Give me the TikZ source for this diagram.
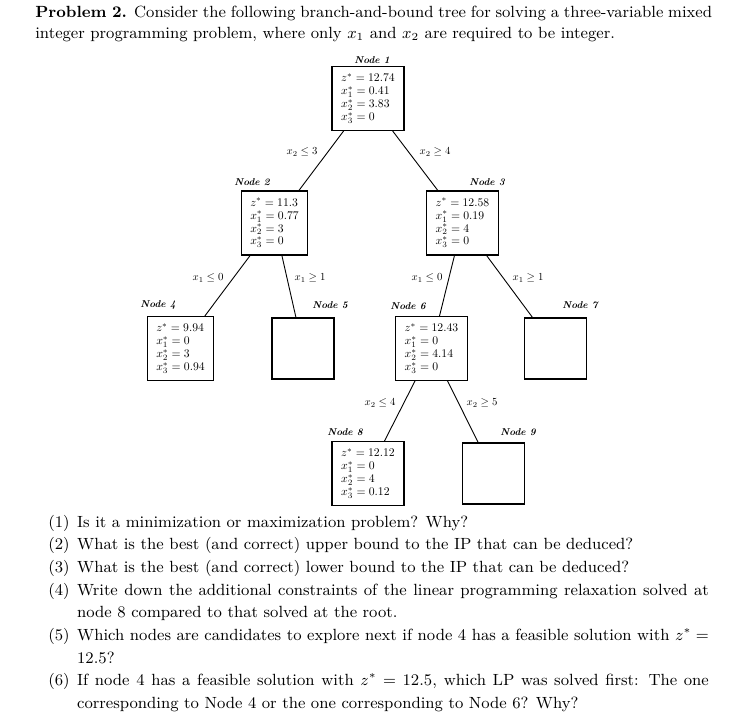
\documentclass[tikz,border=0pt]{standalone}
\usepackage{fix-cm}
\usepackage{fontspec}
\usepackage{amsmath,amssymb}
\usepackage{graphicx}
\usepackage{tikz}

\newcommand{\qitem}[1]{\par\hangindent=16pt\hangafter=1\makebox[16pt][l]{#1}}
\newcommand{\lpvals}[4]{\scalebox{0.65}{\renewcommand{\arraystretch}{0.92}%
\begin{tabular}{@{}l@{}}$z^*=#1$\\$x_1^*=#2$\\$x_2^*=#3$\\$x_3^*=#4$\end{tabular}}}

\begin{document}
\begin{tikzpicture}[x=0.5556pt,y=-0.5556pt,
  bb/.style={draw,line width=0.8pt,inner xsep=5pt,minimum height=34pt},
  empty/.style={draw,line width=0.8pt,minimum width=34.4pt,minimum height=34pt},
  cut/.style={scale=0.6},
  nname/.style={scale=0.55,font=\bfseries\itshape}]
\useasboundingbox (0,0) rectangle (753,723);

\node[anchor=north west,inner sep=0,text width=376pt,align=justify,
  font=\fontsize{9}{11.7}\selectfont] (intro) at (35,6)
{\textbf{Problem 2.} Consider the following branch-and-bound tree for solving a three-variable mixed\linebreak integer programming problem, where only $x_1$ and $x_2$ are required to be integer.};

\node[bb] at (368,98.5) (n1){\lpvals{12.74}{0.41}{3.83}{0}};
\node[bb] at (274.5,223) (n2){\lpvals{11.3}{0.77}{3}{0}};
\node[bb] at (462.5,223) (n3){\lpvals{12.58}{0.19}{4}{0}};
\node[bb] at (180.5,348.5) (n4){\lpvals{9.94}{0}{3}{0.94}};
\node[empty] at (303,348.5) (n5){};
\node[bb] at (431.5,348.5) (n6){\lpvals{12.43}{0}{4.14}{0}};
\node[empty] at (555.5,348.5) (n7){};
\node[bb] at (368,473.5) (n8){\lpvals{12.12}{0}{4}{0.12}};
\node[empty] at (493.5,473.5) (n9){};

% node names
\node[nname] at (372,60) (t1){Node 1};
\node[nname] at (252,182) (t2){Node 2};
\node[nname] at (487,182) (t3){Node 3};
\node[nname] at (158,305) (t4){Node 4};
\node[nname] at (330,305) (t5){Node 5};
\node[nname] at (408,306) (t6){Node 6};
\node[nname] at (580,305) (t7){Node 7};
\node[nname] at (345,432) (t8){Node 8};
\node[nname] at (518,432) (t9){Node 9};

\foreach \a/\b in {n1/n2,n1/n3,n2/n4,n2/n5,n3/n6,n3/n7,n6/n8,n6/n9}{
\draw[line width=0.5pt] (\a) -- (\b);
}

\node[cut] at (302,152) (c12){$x_2\leq 3$};
\node[cut] at (435,152) (c13){$x_2\geq 4$};
\node[cut] at (208,278) (c24){$x_1\leq 0$};
\node[cut] at (310,278) (c25){$x_1\geq 1$};
\node[cut] at (427,278) (c36){$x_1\leq 0$};
\node[cut] at (528,278) (c37){$x_1\geq 1$};
\node[cut] at (380,403) (c68){$x_2\leq 4$};
\node[cut] at (482,403) (c69){$x_2\geq 5$};

\node[anchor=north west,inner sep=0,text width=367pt,align=justify,
  font=\fontsize{9}{12.6}\selectfont] (quest) at (48,504)
{\qitem{(1)}Is it a minimization or maximization problem? Why?
\qitem{(2)}What is the best (and correct) upper bound to the IP that can be deduced?
\qitem{(3)}What is the best (and correct) lower bound to the IP that can be deduced?
\qitem{(4)}Write down the additional constraints of the linear programming relaxation solved at\linebreak node 8 compared to that solved at the root.
\qitem{(5)}Which nodes are candidates to explore next if node 4 has a feasible solution with $z^*=$\linebreak 12.5?
\qitem{(6)}If node 4 has a feasible solution with $z^*=12.5$, which LP was solved first: The one\linebreak corresponding to Node 4 or the one corresponding to Node 6? Why?\par};
\end{tikzpicture}
\end{document}
